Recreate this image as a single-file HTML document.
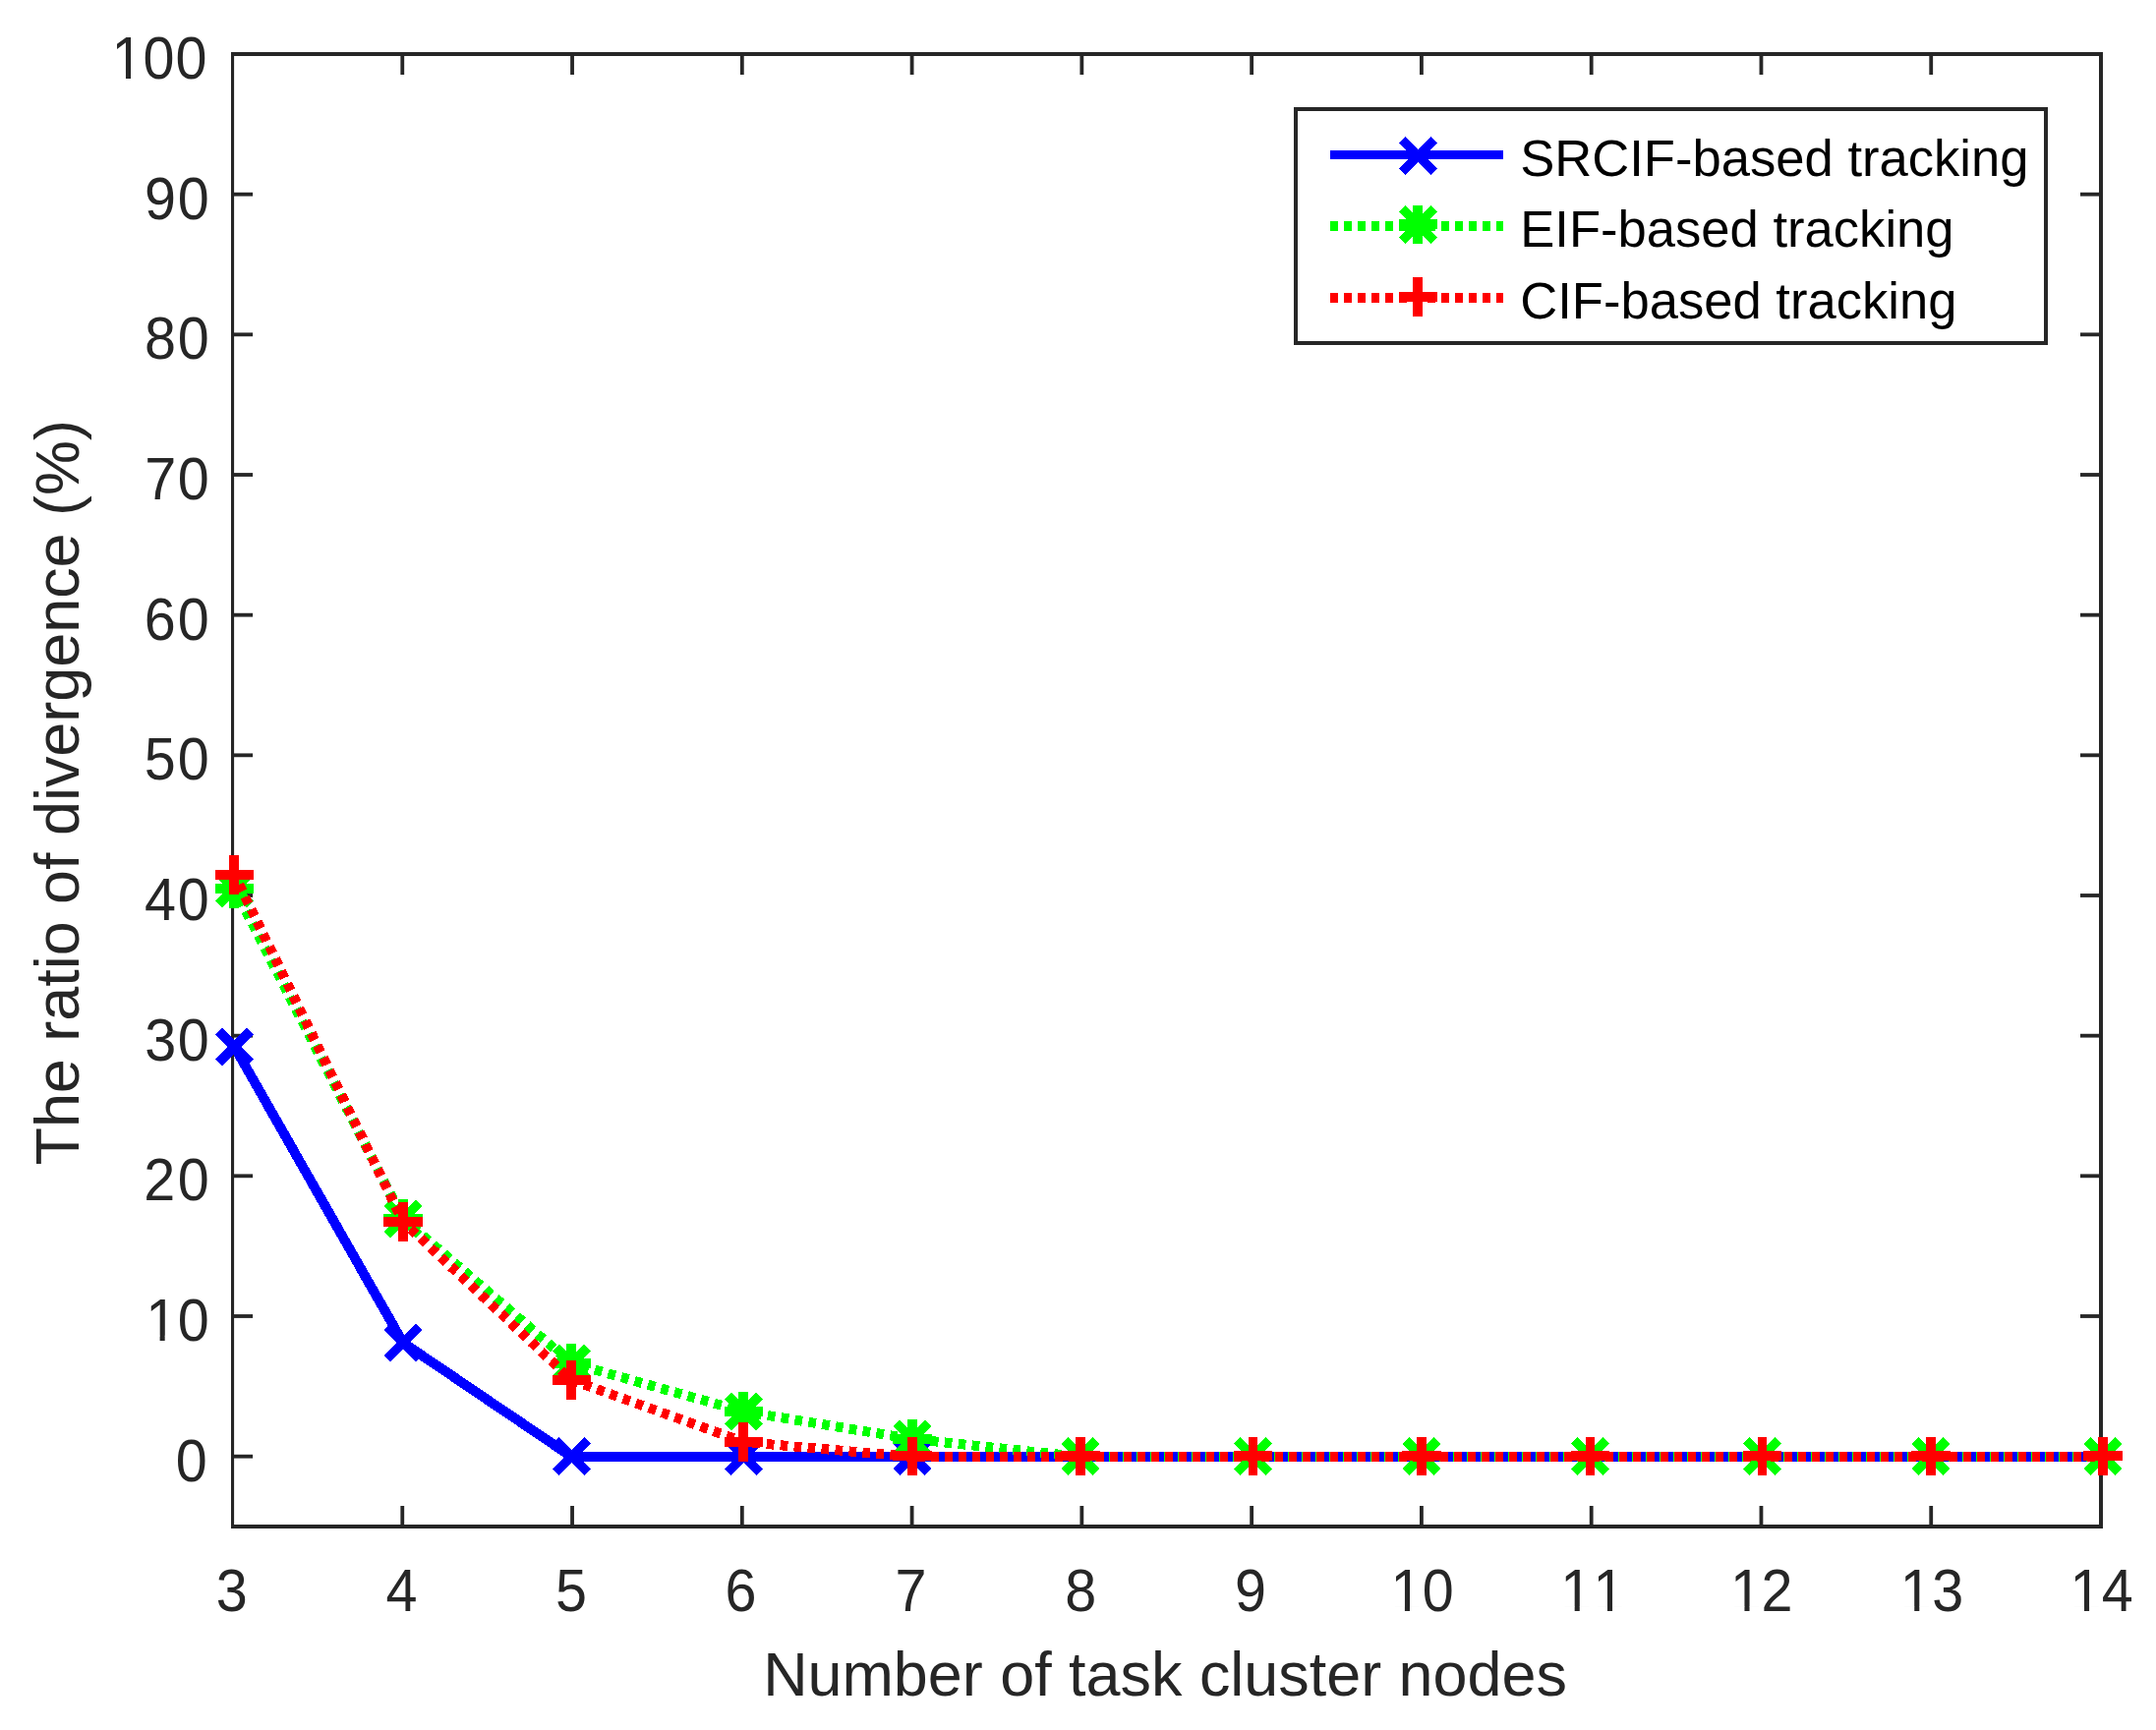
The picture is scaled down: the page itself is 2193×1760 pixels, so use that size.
<!DOCTYPE html>
<html lang="en"><head><meta charset="utf-8"><title>The ratio of divergence vs number of task cluster nodes</title>
<style>html,body{margin:0;padding:0;background:#fff;}html,body{width:2193px;height:1760px;}svg{display:block;}text{font-family:"Liberation Sans",sans-serif;font-kerning:none;}</style>
</head><body>
<svg width="2193" height="1760" viewBox="0 0 2193 1760">
<rect x="0" y="0" width="2193" height="1760" fill="#ffffff"/>
<g fill="#262626">
<rect x="235" y="53" width="1904" height="4"/>
<rect x="235" y="1551" width="1904" height="4"/>
<rect x="235" y="53" width="3.1" height="1502"/>
<rect x="2135" y="53" width="4" height="1502"/>
<rect x="407.37" y="1532" width="3.8" height="21"/>
<rect x="407.37" y="55" width="3.8" height="21"/>
<rect x="580.15" y="1532" width="3.8" height="21"/>
<rect x="580.15" y="55" width="3.8" height="21"/>
<rect x="752.92" y="1532" width="3.8" height="21"/>
<rect x="752.92" y="55" width="3.8" height="21"/>
<rect x="925.69" y="1532" width="3.8" height="21"/>
<rect x="925.69" y="55" width="3.8" height="21"/>
<rect x="1098.46" y="1532" width="3.8" height="21"/>
<rect x="1098.46" y="55" width="3.8" height="21"/>
<rect x="1271.24" y="1532" width="3.8" height="21"/>
<rect x="1271.24" y="55" width="3.8" height="21"/>
<rect x="1444.01" y="1532" width="3.8" height="21"/>
<rect x="1444.01" y="55" width="3.8" height="21"/>
<rect x="1616.78" y="1532" width="3.8" height="21"/>
<rect x="1616.78" y="55" width="3.8" height="21"/>
<rect x="1789.55" y="1532" width="3.8" height="21"/>
<rect x="1789.55" y="55" width="3.8" height="21"/>
<rect x="1962.33" y="1532" width="3.8" height="21"/>
<rect x="1962.33" y="55" width="3.8" height="21"/>
<rect x="236.1" y="1479.77" width="21" height="3.8"/>
<rect x="2116" y="1479.77" width="21" height="3.8"/>
<rect x="236.1" y="1337.10" width="21" height="3.8"/>
<rect x="2116" y="1337.10" width="21" height="3.8"/>
<rect x="236.1" y="1194.43" width="21" height="3.8"/>
<rect x="2116" y="1194.43" width="21" height="3.8"/>
<rect x="236.1" y="1051.77" width="21" height="3.8"/>
<rect x="2116" y="1051.77" width="21" height="3.8"/>
<rect x="236.1" y="909.10" width="21" height="3.8"/>
<rect x="2116" y="909.10" width="21" height="3.8"/>
<rect x="236.1" y="766.43" width="21" height="3.8"/>
<rect x="2116" y="766.43" width="21" height="3.8"/>
<rect x="236.1" y="623.77" width="21" height="3.8"/>
<rect x="2116" y="623.77" width="21" height="3.8"/>
<rect x="236.1" y="481.10" width="21" height="3.8"/>
<rect x="2116" y="481.10" width="21" height="3.8"/>
<rect x="236.1" y="338.43" width="21" height="3.8"/>
<rect x="2116" y="338.43" width="21" height="3.8"/>
<rect x="236.1" y="195.77" width="21" height="3.8"/>
<rect x="2116" y="195.77" width="21" height="3.8"/>
</g>
<g fill="#262626" font-size="57.5">
<text transform="translate(0 1639.30) scale(1 1.064)" x="219.63">3</text>
<text transform="translate(0 1639.30) scale(1 1.064)" x="392.42">4</text>
<text transform="translate(0 1639.30) scale(1 1.064)" x="565.06">5</text>
<text transform="translate(0 1639.30) scale(1 1.064)" x="737.58">6</text>
<text transform="translate(0 1639.30) scale(1 1.064)" x="910.52">7</text>
<text transform="translate(0 1639.30) scale(1 1.064)" x="1083.32">8</text>
<text transform="translate(0 1639.30) scale(1 1.064)" x="1256.11">9</text>
<text transform="translate(0 1639.30) scale(1 1.064)" x="1414.45 1446.65">10</text>
<text transform="translate(0 1639.30) scale(1 1.064)" x="1587.22 1620.52">11</text>
<text transform="translate(0 1639.30) scale(1 1.064)" x="1759.99 1791.53">12</text>
<text transform="translate(0 1639.30) scale(1 1.064)" x="1932.77 1965.14">13</text>
<text transform="translate(0 1639.30) scale(1 1.064)" x="2105.54 2137.69">14</text>
<text transform="translate(0 1506.67) scale(1 1.064)" x="178.66">0</text>
<text transform="translate(0 1364.00) scale(1 1.064)" x="148.14 180.70">10</text>
<text transform="translate(0 1221.33) scale(1 1.064)" x="146.37 180.70">20</text>
<text transform="translate(0 1078.67) scale(1 1.064)" x="147.21 180.70">30</text>
<text transform="translate(0 936.00) scale(1 1.064)" x="146.99 180.70">40</text>
<text transform="translate(0 793.33) scale(1 1.064)" x="146.81 180.70">50</text>
<text transform="translate(0 650.67) scale(1 1.064)" x="146.85 180.70">60</text>
<text transform="translate(0 508.00) scale(1 1.064)" x="147.13 180.70">70</text>
<text transform="translate(0 365.33) scale(1 1.064)" x="147.02 180.70">80</text>
<text transform="translate(0 222.67) scale(1 1.064)" x="147.06 180.70">90</text>
<text transform="translate(0 80.00) scale(1 1.064)" x="113.50 145.46 178.44">100</text>
</g>
<g fill="#ffffff">
<rect x="1417.63" y="1634.03" width="11.28" height="6.47"/>
<rect x="1433.99" y="1634.03" width="10.83" height="6.47"/>
<rect x="1590.40" y="1634.03" width="11.28" height="6.47"/>
<rect x="1606.76" y="1634.03" width="10.83" height="6.47"/>
<rect x="1623.70" y="1634.03" width="11.28" height="6.47"/>
<rect x="1640.06" y="1634.03" width="10.83" height="6.47"/>
<rect x="1763.17" y="1634.03" width="11.28" height="6.47"/>
<rect x="1779.53" y="1634.03" width="10.83" height="6.47"/>
<rect x="1935.95" y="1634.03" width="11.28" height="6.47"/>
<rect x="1952.31" y="1634.03" width="10.83" height="6.47"/>
<rect x="2108.72" y="1634.03" width="11.28" height="6.47"/>
<rect x="2125.08" y="1634.03" width="10.83" height="6.47"/>
<rect x="151.32" y="1358.73" width="11.28" height="6.47"/>
<rect x="167.68" y="1358.73" width="10.83" height="6.47"/>
<rect x="116.68" y="74.73" width="11.28" height="6.47"/>
<rect x="133.04" y="74.73" width="10.83" height="6.47"/>
</g>
<g fill="#262626" font-size="62.89">
<text x="776.13" y="1725.20">Number of task cluster nodes</text>
<text transform="translate(80.00 1185.51) rotate(-90)">The ratio of divergence (%)</text>
</g>
<g shape-rendering="crispEdges" fill="none" stroke-width="10" stroke-linejoin="miter">
<g stroke="#0000ff"><polyline points="238.5,1065.0 410.0,1366.0 581.5,1482.0 756.5,1482.0 928.0,1482.0 1099.0,1482.0 1274.5,1482.0 1446.0,1482.0 1617.5,1482.0 1792.5,1482.0 1964.0,1482.0 2139.0,1482.0"/>
<path stroke-width="9.6" d="M222.4 1048.9L254.6 1081.1M222.4 1081.1L254.6 1048.9"/>
<path stroke-width="9.6" d="M393.9 1349.9L426.1 1382.1M393.9 1382.1L426.1 1349.9"/>
<path stroke-width="9.6" d="M565.4 1465.4L597.6 1497.6M565.4 1497.6L597.6 1465.4"/>
<path stroke-width="9.6" d="M740.4 1465.4L772.6 1497.6M740.4 1497.6L772.6 1465.4"/>
<path stroke-width="9.6" d="M911.9 1465.4L944.1 1497.6M911.9 1497.6L944.1 1465.4"/>
<path stroke-width="9.6" d="M1082.9 1465.4L1115.1 1497.6M1082.9 1497.6L1115.1 1465.4"/>
<path stroke-width="9.6" d="M1258.4 1465.4L1290.6 1497.6M1258.4 1497.6L1290.6 1465.4"/>
<path stroke-width="9.6" d="M1429.9 1465.4L1462.1 1497.6M1429.9 1497.6L1462.1 1465.4"/>
<path stroke-width="9.6" d="M1601.4 1465.4L1633.6 1497.6M1601.4 1497.6L1633.6 1465.4"/>
<path stroke-width="9.6" d="M1776.4 1465.4L1808.6 1497.6M1776.4 1497.6L1808.6 1465.4"/>
<path stroke-width="9.6" d="M1947.9 1465.4L1980.1 1497.6M1947.9 1497.6L1980.1 1465.4"/>
<path stroke-width="9.6" d="M2122.9 1465.4L2155.1 1497.6M2122.9 1497.6L2155.1 1465.4"/>
</g>
<g stroke="#00ff00"><polyline stroke-dasharray="7.7 6.3" stroke-dashoffset="2.44" points="238.5,904.0 410.0,1240.0 581.5,1387.0 756.5,1436.0 928.0,1464.0 1099.0,1482.0 1274.5,1482.0 1446.0,1482.0 1617.5,1482.0 1792.5,1482.0 1964.0,1482.0 2139.0,1482.0"/>
<path stroke-width="9.6" d="M222.4 887.9L254.6 920.1M222.4 920.1L254.6 887.9"/>
<path stroke-width="9.6" d="M393.9 1223.9L426.1 1256.1M393.9 1256.1L426.1 1223.9"/>
<path stroke-width="9.6" d="M565.4 1370.9L597.6 1403.1M565.4 1403.1L597.6 1370.9"/>
<path stroke-width="9.6" d="M740.4 1419.9L772.6 1452.1M740.4 1452.1L772.6 1419.9"/>
<path stroke-width="9.6" d="M911.9 1447.9L944.1 1480.1M911.9 1480.1L944.1 1447.9"/>
<path stroke-width="9.6" d="M1082.9 1465.4L1115.1 1497.6M1082.9 1497.6L1115.1 1465.4"/>
<path stroke-width="9.6" d="M1258.4 1465.4L1290.6 1497.6M1258.4 1497.6L1290.6 1465.4"/>
<path stroke-width="9.6" d="M1429.9 1465.4L1462.1 1497.6M1429.9 1497.6L1462.1 1465.4"/>
<path stroke-width="9.6" d="M1601.4 1465.4L1633.6 1497.6M1601.4 1497.6L1633.6 1465.4"/>
<path stroke-width="9.6" d="M1776.4 1465.4L1808.6 1497.6M1776.4 1497.6L1808.6 1465.4"/>
<path stroke-width="9.6" d="M1947.9 1465.4L1980.1 1497.6M1947.9 1497.6L1980.1 1465.4"/>
<path stroke-width="9.6" d="M2122.9 1465.4L2155.1 1497.6M2122.9 1497.6L2155.1 1465.4"/>
</g><g fill="#00ff00">
<rect x="219.0" y="899.0" width="39.0" height="10.0"/><rect x="233.0" y="884.0" width="10.0" height="40.0"/>
<rect x="390.0" y="1235.0" width="40.0" height="10.0"/><rect x="405.0" y="1220.0" width="10.0" height="40.0"/>
<rect x="562.0" y="1382.0" width="39.0" height="10.0"/><rect x="576.0" y="1367.0" width="10.0" height="40.0"/>
<rect x="737.0" y="1431.0" width="39.0" height="10.0"/><rect x="751.0" y="1416.0" width="10.0" height="40.0"/>
<rect x="908.0" y="1459.0" width="40.0" height="10.0"/><rect x="923.0" y="1444.0" width="10.0" height="40.0"/>
<rect x="1079.0" y="1476.0" width="40.0" height="10.0"/><rect x="1094.0" y="1462.0" width="10.0" height="39.0"/>
<rect x="1255.0" y="1476.0" width="39.0" height="10.0"/><rect x="1270.0" y="1462.0" width="9.0" height="39.0"/>
<rect x="1426.0" y="1476.0" width="40.0" height="10.0"/><rect x="1441.0" y="1462.0" width="10.0" height="39.0"/>
<rect x="1598.0" y="1476.0" width="39.0" height="10.0"/><rect x="1613.0" y="1462.0" width="9.0" height="39.0"/>
<rect x="1773.0" y="1476.0" width="39.0" height="10.0"/><rect x="1788.0" y="1462.0" width="9.0" height="39.0"/>
<rect x="1944.0" y="1476.0" width="40.0" height="10.0"/><rect x="1959.0" y="1462.0" width="10.0" height="39.0"/>
<rect x="2119.0" y="1476.0" width="40.0" height="10.0"/><rect x="2134.0" y="1462.0" width="10.0" height="39.0"/>
</g>
<g stroke="#ff0000"><polyline stroke-dasharray="7.7 6.3" stroke-dashoffset="2.97" points="238.5,890.0 410.0,1243.0 581.5,1404.0 756.5,1467.0 928.0,1482.0 1099.0,1482.0 1274.5,1482.0 1446.0,1482.0 1617.5,1482.0 1792.5,1482.0 1964.0,1482.0 2139.0,1482.0"/></g>
<g fill="#ff0000">
<rect x="219.0" y="885.0" width="39.0" height="10.0"/><rect x="233.0" y="870.0" width="10.0" height="40.0"/>
<rect x="390.0" y="1238.0" width="40.0" height="10.0"/><rect x="405.0" y="1223.0" width="10.0" height="40.0"/>
<rect x="562.0" y="1399.0" width="39.0" height="10.0"/><rect x="576.0" y="1384.0" width="10.0" height="40.0"/>
<rect x="737.0" y="1462.0" width="39.0" height="10.0"/><rect x="751.0" y="1447.0" width="10.0" height="40.0"/>
<rect x="908.0" y="1476.0" width="40.0" height="10.0"/><rect x="923.0" y="1462.0" width="10.0" height="39.0"/>
<rect x="1079.0" y="1476.0" width="40.0" height="10.0"/><rect x="1094.0" y="1462.0" width="10.0" height="39.0"/>
<rect x="1255.0" y="1476.0" width="39.0" height="10.0"/><rect x="1270.0" y="1462.0" width="9.0" height="39.0"/>
<rect x="1426.0" y="1476.0" width="40.0" height="10.0"/><rect x="1441.0" y="1462.0" width="10.0" height="39.0"/>
<rect x="1598.0" y="1476.0" width="39.0" height="10.0"/><rect x="1613.0" y="1462.0" width="9.0" height="39.0"/>
<rect x="1773.0" y="1476.0" width="39.0" height="10.0"/><rect x="1788.0" y="1462.0" width="9.0" height="39.0"/>
<rect x="1944.0" y="1476.0" width="40.0" height="10.0"/><rect x="1959.0" y="1462.0" width="10.0" height="39.0"/>
<rect x="2119.0" y="1476.0" width="40.0" height="10.0"/><rect x="2134.0" y="1462.0" width="10.0" height="39.0"/>
</g>
</g>
<g fill="#262626">
<rect x="1316" y="109" width="767" height="242" fill="#ffffff"/>
<rect x="1316" y="109" width="767" height="4"/>
<rect x="1316" y="347" width="767" height="4"/>
<rect x="1316" y="109" width="4" height="242"/>
<rect x="2079" y="109" width="4" height="242"/>
</g>
<g shape-rendering="crispEdges" fill="none" stroke-width="10">
<g stroke="#0000ff"><path stroke-width="9" d="M1353 157.5H1529"/><path stroke-width="9.6" d="M1426.4 142.4L1458.6 174.6M1426.4 174.6L1458.6 142.4"/></g>
<g stroke="#00ff00"><path stroke-dasharray="8 6.08" d="M1353 230H1529"/><path stroke-width="9.6" d="M1426.4 212.4L1458.6 244.6M1426.4 244.6L1458.6 212.4"/></g>
<g fill="#00ff00"><rect x="1423.0" y="223.0" width="39.0" height="10.0"/><rect x="1437.0" y="209.0" width="10.0" height="39.0"/></g>
<g stroke="#ff0000"><path stroke-dasharray="8 6.08" d="M1353 303H1529"/></g>
<g fill="#ff0000"><rect x="1423.0" y="297.0" width="39.0" height="10.0"/><rect x="1437.0" y="282.0" width="10.0" height="40.0"/></g>
</g>
<g fill="#000000" font-size="52.6">
<text x="1546.20" y="178.80">SRCIF-based tracking</text>
<text x="1546.20" y="250.80">EIF-based tracking</text>
<text x="1546.20" y="323.80">CIF-based tracking</text>
</g>
</svg>
</body></html>
